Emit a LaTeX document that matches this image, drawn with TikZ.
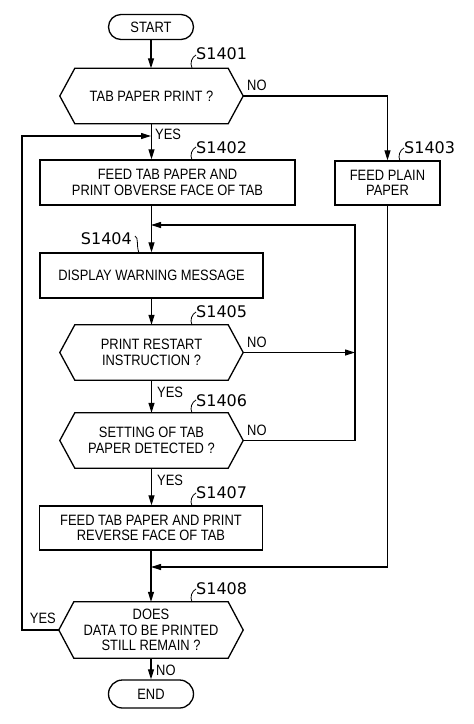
\documentclass[tikz,border=0pt]{standalone}
\usepackage{fontspec}
\setmainfont[FakeStretch=0.86]{Liberation Sans}
\newfontfamily\steplabelfont{DejaVu Sans}
\usetikzlibrary{arrows.meta,shapes.misc}
\newcommand\hexdraw[1]{\draw[shapeline] ([xshift=15pt]#1.north west) -- ([xshift=-15pt]#1.north east) -- (#1.east) -- ([xshift=-15pt]#1.south east) -- ([xshift=15pt]#1.south west) -- (#1.west) -- cycle;}
\newcommand\squig[1]{\draw[squigline] (#1) .. controls +(-2.5,-5) and +(-4,2) .. +(4,-13);}
\begin{document}
\begin{tikzpicture}[x=1pt,y=-1pt,
  every node/.style={font=\fontsize{15}{15.5}\selectfont, inner sep=0pt},
  arr/.style={line width=1.1pt, -{Triangle[length=10pt,width=6pt]}},
  shapeline/.style={line width=1.3pt, line join=miter},
  squigline/.style={line width=0.8pt},
  term/.style={draw, line width=1.3pt, rounded rectangle, minimum width=85pt, minimum height=25pt},
  procbox/.style={draw, line width=1.3pt, rectangle, align=center},
  decision/.style={rectangle, align=center, minimum width=183pt, minimum height=55pt},
  steplabel/.style={font=\steplabelfont\fontsize{16}{16}\selectfont, anchor=west},
  yn/.style={font=\fontsize{15}{15}\selectfont, anchor=west}]
\useasboundingbox (0,0) rectangle (474,724);

% nodes
\node[term] (start) at (151,27) {START};
\node[decision] (d1) at (151.5,96) {TAB PAPER PRINT ?};
\node[procbox, minimum width=255pt, minimum height=45pt] (b2) at (167.5,182.5) {FEED TAB PAPER AND\\PRINT OBVERSE FACE OF TAB};
\node[procbox, minimum width=105pt, minimum height=44pt] (b3) at (387.5,183) {FEED PLAIN\\PAPER};
\node[procbox, minimum width=223pt, minimum height=45pt] (b4) at (151.5,275.5) {DISPLAY WARNING MESSAGE};
\node[decision] (d5) at (151.5,352.5) {PRINT RESTART\\INSTRUCTION ?};
\node[decision] (d6) at (151.5,440.5) {SETTING OF TAB\\PAPER DETECTED ?};
\node[procbox, minimum width=223pt, minimum height=44pt] (b7) at (151,528) {FEED TAB PAPER AND PRINT\\REVERSE FACE OF TAB};
\node[decision, minimum width=184pt, minimum height=56pt] (d8) at (151,630) {DOES\\DATA TO BE PRINTED\\STILL REMAIN ?};
\node[term, minimum height=28pt] (end) at (151,694) {END};

\hexdraw{d1}
\hexdraw{d5}
\hexdraw{d6}
\hexdraw{d8}

% step labels
\node[steplabel] (l1) at (196,54) {S1401};
\node[steplabel] (l2) at (196,148) {S1402};
\node[steplabel] (l3) at (404,147.5) {S1403};
\node[steplabel, anchor=east] (l4) at (132,238.5) {S1404};
\node[steplabel] (l5) at (196,312) {S1405};
\node[steplabel] (l6) at (196,401) {S1406};
\node[steplabel] (l7) at (196,493) {S1407};
\node[steplabel] (l8) at (196,589) {S1408};

\coordinate (q1) at (192,68);
\coordinate (q2) at (192,160);
\coordinate (q3) at (400,161);
\coordinate (q5) at (192,325);
\coordinate (q6) at (192,413);
\coordinate (q7) at (192,506);
\coordinate (q8) at (192,602);
\squig{q1}
\squig{q2}
\squig{q3}
\squig{q5}
\squig{q6}
\squig{q7}
\squig{q8}
\draw[squigline] (135,236) .. controls (139,238) and (136,245) .. (139,253);

% yes / no labels
\node[yn] (y1) at (155,134) {YES};
\node[yn] (n1) at (247,85) {NO};
\node[yn] (n5) at (247,342) {NO};
\node[yn] (y5) at (157,392) {YES};
\node[yn] (n6) at (247,430) {NO};
\node[yn] (y6) at (157,480) {YES};
\node[yn, anchor=east] (y8) at (56,618) {YES};
\node[yn] (n8) at (156,670) {NO};

% junction coordinates
\coordinate (j1) at (151,136);
\coordinate (j2) at (151,225);
\coordinate (j3) at (151,567);
\coordinate (lft) at (22,136);
\coordinate (r1) at (355,352.5);
\coordinate (r2) at (355,225);

% connectors
\draw[arr] (start.south) -- (start.south |- d1.north);
\draw[arr] (d1.south) -- (d1.south |- b2.north);
\draw[arr] (d1.east) -| (b3.north);
\draw[arr] (b2.south -| b4.north) -- (b4.north);
\draw[arr] (b4.south) -- (d5.north);
\draw[arr] (d5.south) -- (d6.north);
\draw[arr] (d6.south) -- (d6.south |- b7.north);
\draw[arr] (b7.south) -- (d8.north);
\draw[arr] (d8.south) -- (end.north);
\draw[arr] (d5.east) -- (r1);
\draw[arr] (d6.east) -| (r2) -- (j2);
\draw[arr] (b3.south) |- (j3);
\draw[arr] (d8.west) -| (lft) -- (j1);
\end{tikzpicture}
\end{document}
